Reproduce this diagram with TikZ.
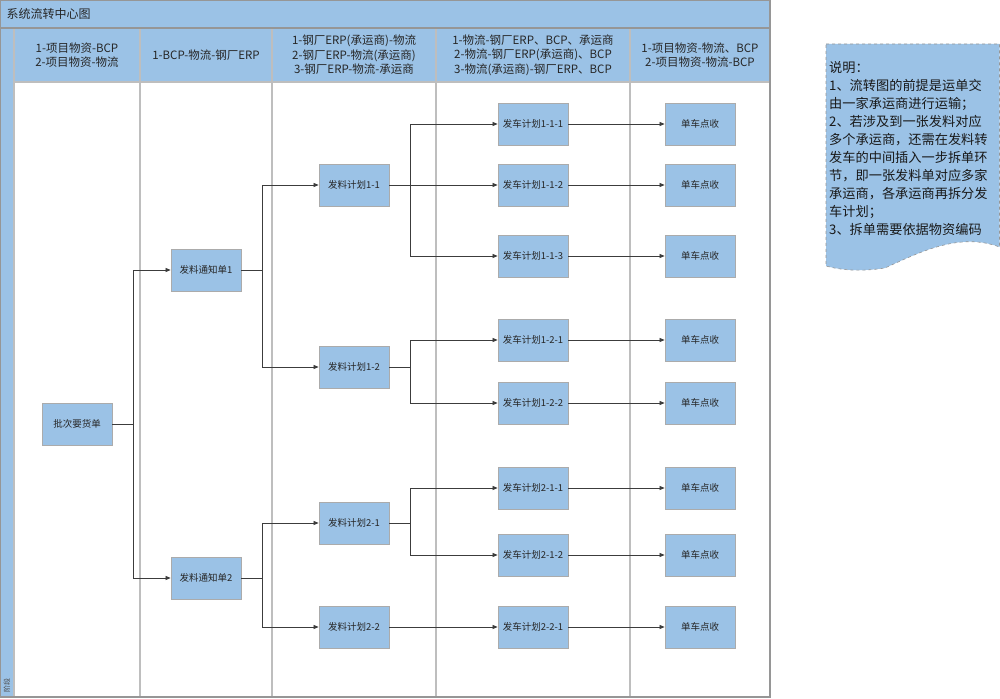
\documentclass[tikz,border=0pt]{standalone}
\usepackage{fontspec}
\setmainfont{Noto Sans CJK SC}
\usetikzlibrary{arrows.meta}
\definecolor{boxblue}{RGB}{155,194,230}
\definecolor{lanegray}{RGB}{190,190,190}
\definecolor{framegray}{RGB}{150,150,150}
\definecolor{linegray}{RGB}{60,60,60}
\tikzset{
  stepbox/.style={draw=framegray!80, line width=0.8pt, fill=boxblue, minimum width=70pt, minimum height=42pt, inner sep=0pt, font=\fontsize{9.5}{11}\selectfont, text=black!85},
  lbl/.style={font=\fontsize{9.5}{11}\selectfont, text=black!85},
  hdr/.style={align=center, font=\fontsize{11.5}{14.5}\selectfont, text=black!85},
  arr/.style={draw=linegray, line width=0.7pt, -{Triangle[length=5pt,width=4pt]}},
  lane/.style={draw=lanegray, line width=1.3pt},
}
\begin{document}
\begin{tikzpicture}[x=1pt,y=-1pt]
\useasboundingbox (0,0) rectangle (1000,698);
% pool frame
\fill[white] (0,0) rectangle (770,697);
\fill[boxblue] (0,0) rectangle (770,28);
\fill[boxblue] (0,28) rectangle (14,697);
\fill[boxblue] (14,28) rectangle (770,82);
\foreach \x in {140,272,436,630} \draw[lane] (\x,28) -- (\x,697);
\draw[lane] (14,28) -- (14,697);
\draw[lane] (14,82) -- (770,82);
\draw[framegray, line width=1.2pt] (0,28) -- (770,28);
\draw[framegray, line width=1.3pt] (0,0) rectangle (770,697);
\node[anchor=west, font=\fontsize{12}{14}\selectfont, text=black!85] (title) at (3,14) {系统流转中心图};
\node[rotate=90, font=\fontsize{7}{8}\selectfont, text=black!70, inner sep=0pt] (stage) at (7,685) {阶段};
% headers
\node[hdr] (h1) at (77,55) {1-项目物资-BCP\\2-项目物资-物流};
\node[hdr] (h2) at (206,55) {1-BCP-物流-钢厂ERP};
\node[hdr] (h3) at (354,55) {1-钢厂ERP(承运商)-物流\\2-钢厂ERP-物流(承运商)\\3-钢厂ERP-物流-承运商};
\node[hdr] (h4) at (533,55) {1-物流-钢厂ERP、BCP、承运商\\2-物流-钢厂ERP(承运商)、BCP\\3-物流(承运商)-钢厂ERP、BCP};
\node[hdr] (h5) at (700,55) {1-项目物资-物流、BCP\\2-项目物资-物流-BCP};
% nodes
\node[stepbox] (pc) at (77,424) {批次要货单};
\node[stepbox] (t1) at (206,270) {发料通知单1};
\node[stepbox] (t2) at (206,578) {发料通知单2};
\node[stepbox] (f11) at (354,185) {发料计划1-1};
\node[stepbox] (f12) at (354,367) {发料计划1-2};
\node[stepbox] (f21) at (354,523) {发料计划2-1};
\node[stepbox] (f22) at (354,627) {发料计划2-2};
\foreach \n/\y in {111/124,112/185,113/256,121/340,122/403,211/488,212/555,221/627}{
  \node[stepbox] (c\n) at (533,\y) {};
  \node[stepbox] (d\n) at (700,\y) {单车点收};
}
\node[lbl] (l111) at (c111) {发车计划1-1-1};
\node[lbl] (l112) at (c112) {发车计划1-1-2};
\node[lbl] (l113) at (c113) {发车计划1-1-3};
\node[lbl] (l121) at (c121) {发车计划1-2-1};
\node[lbl] (l122) at (c122) {发车计划1-2-2};
\node[lbl] (l211) at (c211) {发车计划2-1-1};
\node[lbl] (l212) at (c212) {发车计划2-1-2};
\node[lbl] (l221) at (c221) {发车计划2-2-1};
% connectors
\draw[arr] (pc.east) -- ++(21,0) |- (t1.west);
\draw[arr] (pc.east) -- ++(21,0) |- (t2.west);
\draw[arr] (t1.east) -- ++(21,0) |- (f11.west);
\draw[arr] (t1.east) -- ++(21,0) |- (f12.west);
\draw[arr] (t2.east) -- ++(21,0) |- (f21.west);
\draw[arr] (t2.east) -- ++(21,0) |- (f22.west);
\draw[arr] (f11.east) -- ++(21,0) |- (c111.west);
\draw[arr] (f11.east) -- (c112.west);
\draw[arr] (f11.east) -- ++(21,0) |- (c113.west);
\draw[arr] (f12.east) -- ++(21,0) |- (c121.west);
\draw[arr] (f12.east) -- ++(21,0) |- (c122.west);
\draw[arr] (f21.east) -- ++(21,0) |- (c211.west);
\draw[arr] (f21.east) -- ++(21,0) |- (c212.west);
\draw[arr] (f22.east) -- (c221.west);
\foreach \n in {111,112,113,121,122,211,212,221} \draw[arr] (c\n.east) -- (d\n.west);
% note
\draw[draw=framegray, dashed, line width=0.6pt, fill=boxblue] (826,44) -- (999.5,44) -- (999.5,247)
  .. controls (960,232) and (920,252) .. (885,268)
  .. controls (860,272) and (840,270) .. (826,266) -- cycle;
\node[anchor=north west, align=left, font=\fontsize{13.2}{18}\selectfont, text=black!90, inner sep=0pt] (note) at (829,61)
{说明：\\1、流转图的前提是运单交\\由一家承运商进行运输；\\2、若涉及到一张发料对应\\多个承运商，还需在发料转\\发车的中间插入一步拆单环\\节，即一张发料单对应多家\\承运商，各承运商再拆分发\\车计划；\\3、拆单需要依据物资编码};
\end{tikzpicture}
\end{document}
